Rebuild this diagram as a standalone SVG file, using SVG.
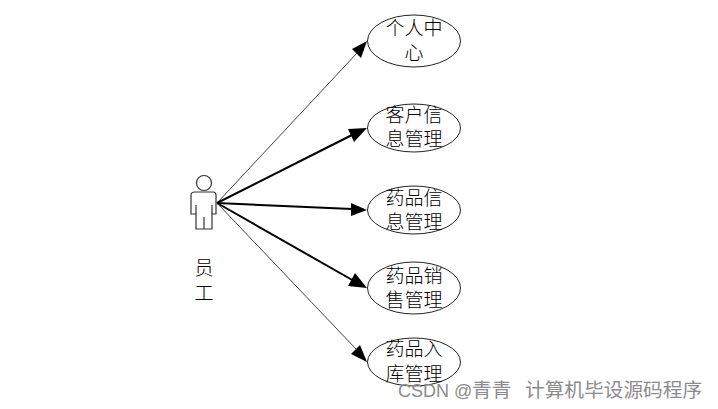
<svg xmlns="http://www.w3.org/2000/svg" width="718" height="409" viewBox="0 0 718 409">
<style>
.uc{fill:#fff;stroke:#222;stroke-width:1}
.t{font-family:"Noto Sans CJK SC","Liberation Serif",serif;font-size:19px;font-weight:300;fill:#000;text-anchor:middle}
.thin{stroke:#111;stroke-width:.8;fill:none}
.thick{stroke:#000;stroke-width:2;fill:none}
.wm{font-family:"Liberation Sans","Noto Sans CJK SC",sans-serif;font-size:18px;fill:#8c8c8c}
.cn{font-family:"Noto Sans CJK SC",sans-serif;font-size:19.7px}
.actor{fill:#fff;stroke:#333;stroke-width:1.2}
</style>
<rect width="718" height="409" fill="#fff"/>
<g id="connectors">
<line class="thin" x1="217" y1="203" x2="357" y2="53"/><polygon points="367,41 361,58 352,49"/>
<line class="thick" x1="217" y1="203" x2="352" y2="135"/><polygon points="367,128 354,142 348,129"/>
<line class="thick" x1="217" y1="203" x2="352" y2="209"/><polygon points="367,210 351,216 351,203"/>
<line class="thick" x1="217" y1="203" x2="354" y2="281"/><polygon points="367,288 348,286 355,273"/>
<line class="thin" x1="217" y1="203" x2="356" y2="349"/><polygon points="367,362 351,354 360,345"/>
</g>
<g id="actor">
<circle class="actor" cx="204" cy="183" r="7.5"/>
<path class="actor" d="M195 192H213Q216 192 216 195V214H212V229H196V214H191V195Q191 192 195 192Z"/>
<path class="actor" fill="none" d="M196 205V214M212 205V214M204 217V229"/>
<text class="t"><tspan x="204" y="275">员</tspan><tspan x="204" y="300">工</tspan></text>
</g>
<g id="uc1"><ellipse class="uc" cx="414" cy="41" rx="46.500" ry="26"/><text class="t"><tspan x="414" y="35">个人中</tspan><tspan x="414" y="60">心</tspan></text></g>
<g id="uc2"><ellipse class="uc" cx="414" cy="128" rx="46.500" ry="24"/><text class="t"><tspan x="414" y="122">客户信</tspan><tspan x="414" y="146">息管理</tspan></text></g>
<g id="uc3"><ellipse class="uc" cx="414" cy="210" rx="46.500" ry="24"/><text class="t"><tspan x="414" y="205">药品信</tspan><tspan x="414" y="229">息管理</tspan></text></g>
<g id="uc4"><ellipse class="uc" cx="414" cy="288" rx="46.500" ry="26"/><text class="t"><tspan x="414" y="283">药品销</tspan><tspan x="414" y="307">售管理</tspan></text></g>
<g id="uc5"><ellipse class="uc" cx="414" cy="362" rx="46.500" ry="24"/><text class="t"><tspan x="414" y="356">药品入</tspan><tspan x="414" y="381">库管理</tspan></text></g>
<text class="wm" y="397"><tspan x="398">CSDN @</tspan><tspan class="cn" x="472">青青</tspan><tspan class="cn" x="525">计算机毕设源码程序</tspan></text>
</svg>
